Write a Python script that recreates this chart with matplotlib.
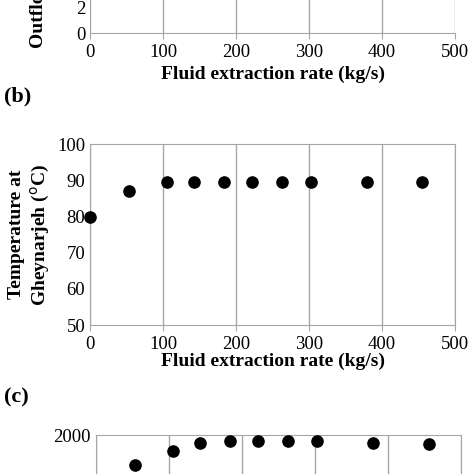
import matplotlib
matplotlib.use("Agg")
import matplotlib.pyplot as plt

plt.rcParams['font.family'] = ['Liberation Serif', 'DejaVu Serif']

b_x = [0, 53, 105, 143, 183, 222, 263, 303, 380, 455]
b_y = [80, 87, 89.5, 89.5, 89.5, 89.5, 89.5, 89.5, 89.5, 89.5]
c_x = [0, 53, 105, 143, 184, 222, 263, 303, 380, 456]
c_y = [900, 1667, 1822, 1911, 1933, 1933, 1933, 1933, 1911, 1900]
xticks = [0, 100, 200, 300, 400, 500]

fig = plt.figure(figsize=(4.74, 4.74), dpi=100)
grid_c = '#a6a6a6'

def style(ax):
    ax.set_xlim(0, 500)
    ax.set_xticks(xticks)
    ax.grid(axis='x', color=grid_c, lw=1)
    ax.set_axisbelow(True)
    ax.tick_params(labelsize=13.5, length=4, color=grid_c)
    for s in ax.spines.values():
        s.set_color(grid_c)

# panel a
ax1 = fig.add_axes([0.190, 0.930, 0.770, 0.274])
style(ax1)
ax1.set_ylim(0, 10)
ax1.set_yticks([0, 2, 4, 6, 8, 10])
for s in ['top', 'right', 'left']:
    ax1.spines[s].set_visible(False)
ax1.tick_params(axis='y', length=0)
ax1.set_xlabel('Fluid extraction rate (kg/s)', fontsize=14, fontweight='bold')
ax1.set_ylabel('Outflow rate (kg/s)', fontsize=14, fontweight='bold', labelpad=14)

# panel b
ax2 = fig.add_axes([0.190, 0.314, 0.770, 0.382])
style(ax2)
ax2.set_ylim(50, 100)
ax2.set_yticks([50, 60, 70, 80, 90, 100])
ax2.tick_params(axis='y', length=0)
ax2.scatter(b_x, b_y, s=65, color='black', zorder=3, clip_on=False)
ax2.set_xlabel('Fluid extraction rate (kg/s)', fontsize=14, fontweight='bold', labelpad=0)
ax2.set_ylabel('Temperature at\nGheynarjeh ($^{\\mathrm{o}}$C)', fontsize=14, fontweight='bold')
fig.text(0.008, 0.785, '(b)', fontsize=16, fontweight='bold')

# panel c
ax3 = fig.add_axes([0.2025, -0.298, 0.770, 0.380])
style(ax3)
ax3.set_ylim(0, 2000)
ax3.set_yticks([0, 500, 1000, 1500, 2000])
ax3.tick_params(axis='y', length=0)
ax3.scatter(c_x, c_y, s=65, color='black', zorder=3, clip_on=False)
ax3.set_ylabel('Discharge at\nGheynarjeh', fontsize=14, fontweight='bold')
fig.text(0.008, 0.15, '(c)', fontsize=16, fontweight='bold')

fig.savefig('out.png', dpi=100)
